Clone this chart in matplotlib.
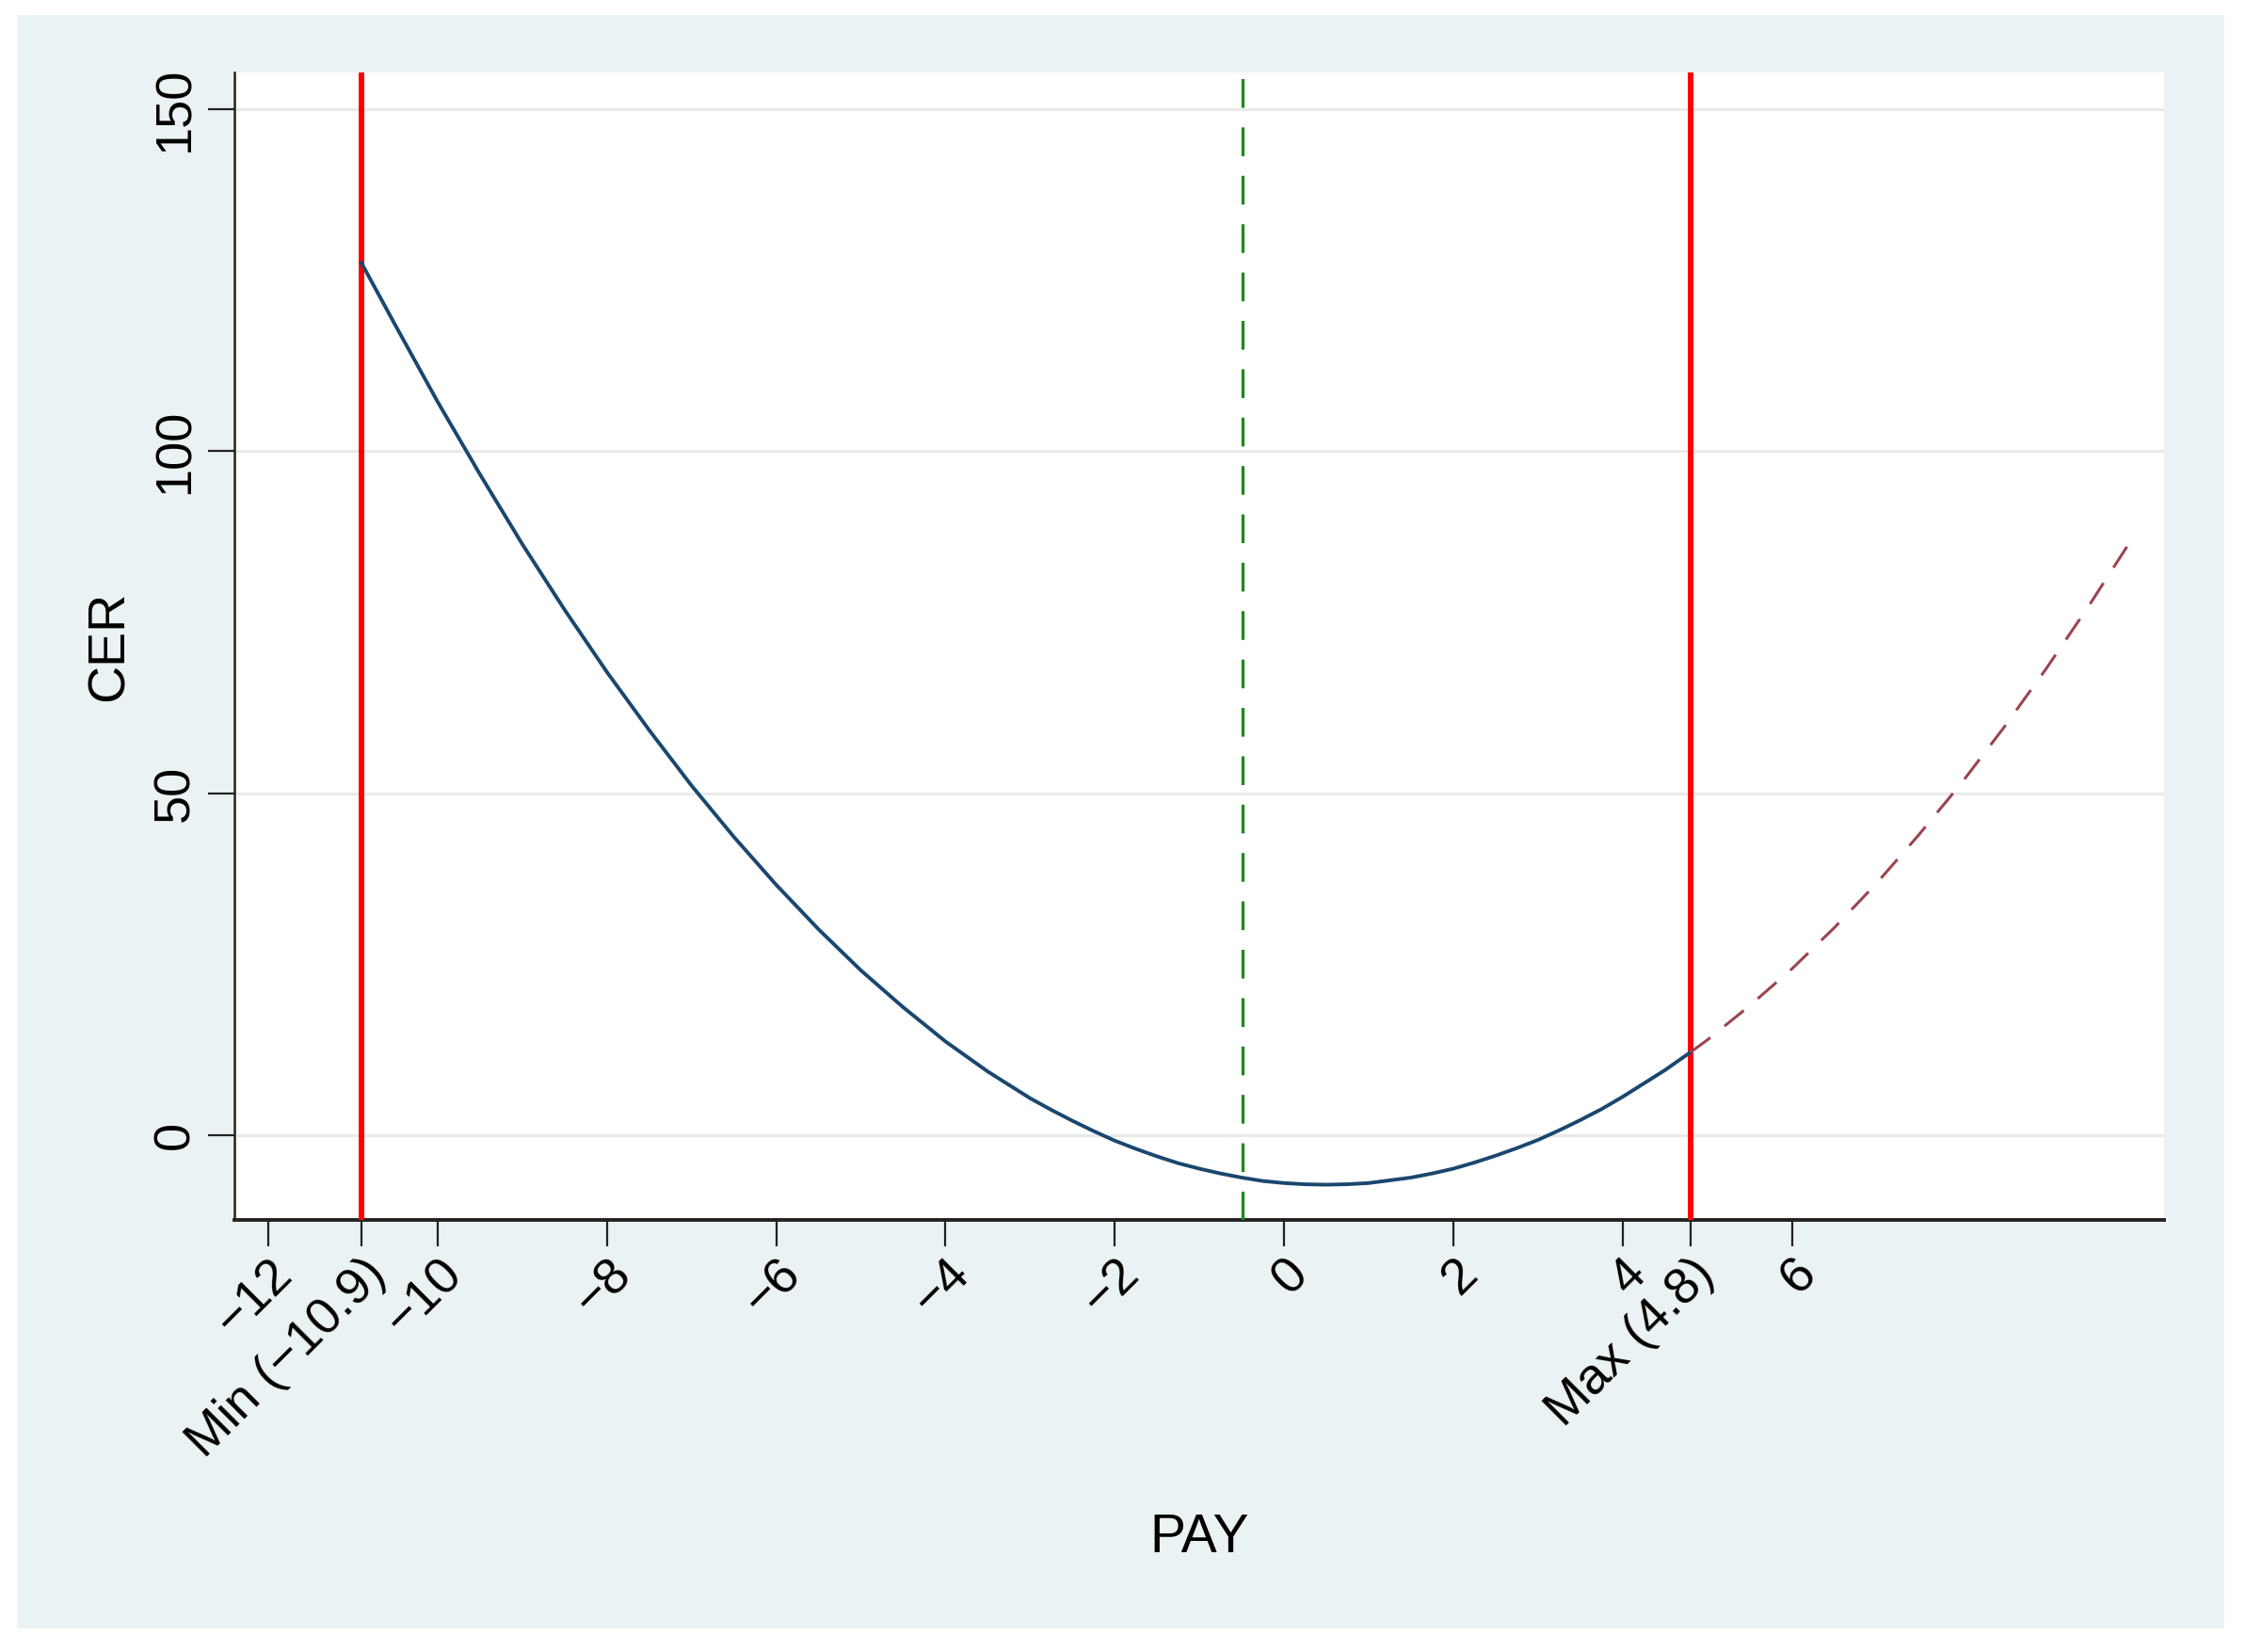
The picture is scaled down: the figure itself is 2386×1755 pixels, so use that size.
import matplotlib
matplotlib.use("Agg")
import matplotlib.pyplot as plt
from matplotlib.patches import Rectangle

plt.rcParams['font.family'] = ['Liberation Sans', 'DejaVu Sans']
plt.rcParams['lines.scale_dashes'] = False

# Datos
pay_obs = [-10.9, -10.5, -10, -9.5, -9, -8.5, -8, -7.5, -7, -6.5, -6, -5.5, -5,
           -4.5, -4, -3.5, -3, -2.75, -2.5, -2.25, -2, -1.75, -1.5, -1.25, -1,
           -0.75, -0.5, -0.25, 0, 0.25, 0.5, 0.75, 1, 1.25, 1.5, 1.75, 2,
           2.25, 2.5, 2.75, 3, 3.25, 3.5, 3.75, 4, 4.5, 4.8]
cer_obs = [127.5, 118.4, 107.2, 96.6, 86.4, 76.8, 67.7, 59.2, 51.1, 43.6, 36.6,
           30.1, 24.1, 18.7, 13.7, 9.3, 5.4, 3.7, 2.1, 0.6, -0.8, -2.0, -3.1,
           -4.1, -4.9, -5.6, -6.2, -6.7, -7.0, -7.18, -7.24, -7.17, -7.0, -6.6,
           -6.2, -5.6, -4.9, -4.0, -3.0, -1.9, -0.7, 0.7, 2.2, 3.8, 5.6, 9.5, 12.1]
pay_ext = [4.8, 5, 5.5, 6, 6.5, 7, 7.5, 8, 8.5, 9, 9.5, 10]
cer_ext = [12.1, 13.9, 18.9, 24.3, 30.3, 36.8, 43.9, 51.4, 59.5, 68.1, 77.2, 86.8]

pay_min = -10.9
pay_max = 4.8
pay_turn = -0.49

xticks = [-12, -10.9, -10, -8, -6, -4, -2, 0, 2, 4, 4.8, 6]
xticklabels = ['\u221212', 'Min (\u221210.9)', '\u221210', '\u22128', '\u22126',
               '\u22124', '\u22122', '0', '2', '4', 'Max (4.8)', '6']
yticks = [0, 50, 100, 150]

fig = plt.figure(figsize=(23.86, 17.55), dpi=100)
fig.patch.set_facecolor('white')
fondo = Rectangle((0.0075, 0.0143), 0.9828, 0.9766, transform=fig.transFigure,
                  facecolor='#eaf2f3', edgecolor='none', zorder=-10)
fig.add_artist(fondo)

ax = fig.add_axes([0.1044, 0.2615, 0.8592, 0.6945])
ax.set_facecolor('white')
ax.set_zorder(1)

# Lineas de referencia
ax.axvline(pay_min, color='#ff0000', lw=4.3, zorder=3)
ax.axvline(pay_max, color='#ff0000', lw=4.3, zorder=3)
ax.axvline(pay_turn, color='#1e8a1e', lw=2.4, dashes=(22, 15), zorder=3)

# Curva
ax.plot(pay_obs, cer_obs, color='#1a476f', lw=2.8, zorder=4, solid_joinstyle='round')
ax.plot(pay_ext, cer_ext, color='#9b4450', lw=2.2, dashes=(19, 14), zorder=4)

ax.set_xlim(-12.4, 10.4)
ax.set_ylim(-12.4, 155.3)

ax.set_yticks(yticks)
ax.set_yticklabels([str(v) for v in yticks])
ax.yaxis.grid(True, color='#eaeaea', lw=2.2)
ax.set_axisbelow(True)

ax.set_xticks(xticks)
ax.set_xticklabels(xticklabels)

ax.tick_params(axis='both', length=20, width=1.6, color='#222222', labelsize=39)
ax.tick_params(axis='x', pad=3)
ax.tick_params(axis='y', pad=7)
for t in ax.get_xticklabels():
    t.set_rotation(45)
    t.set_rotation_mode('anchor')
    t.set_ha('right')
    t.set_va('top')
for t in ax.get_yticklabels():
    t.set_rotation(90)
    t.set_va('center')

for s in ['top', 'right']:
    ax.spines[s].set_visible(False)
ax.spines['left'].set_linewidth(1.8)
ax.spines['left'].set_color('#222222')
ax.spines['bottom'].set_linewidth(2.8)
ax.spines['bottom'].set_color('#222222')

ax.set_xlabel('PAY', fontsize=41)
ax.set_ylabel('CER', fontsize=40)
ax.xaxis.set_label_coords(0.5, -0.255)
ax.yaxis.set_label_coords(-0.052, 0.5)

fig.savefig('out.png', dpi=100)
